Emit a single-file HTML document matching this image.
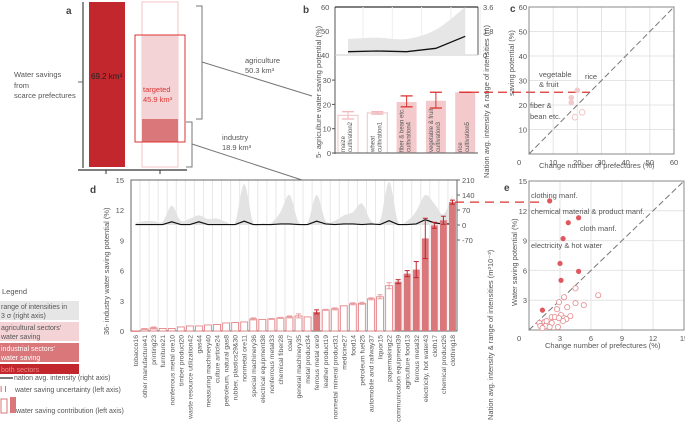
<!DOCTYPE html>
<html><head><meta charset="utf-8"><style>
body{margin:0;background:#fff;width:685px;height:428px;overflow:hidden;font-family:"Liberation Sans",sans-serif}
svg text{font-family:"Liberation Sans",sans-serif}
</style></head><body>
<svg id="s" width="685" height="428" fill="#555" xmlns="http://www.w3.org/2000/svg">
<!-- Panel a -->
<g>
<text x="66" y="14" font-size="10" font-weight="bold" fill="#444">a</text>
<line x1="83" y1="2" x2="83" y2="168" stroke="#666" stroke-width="1.5"/>
<line x1="78" y1="82" x2="83" y2="82" stroke="#666"/>
<line x1="78" y1="170" x2="187" y2="170" stroke="#333" stroke-width="1.2"/>
<line x1="106" y1="170" x2="106" y2="174" stroke="#333"/><line x1="160" y1="170" x2="160" y2="174" stroke="#333"/>
<rect x="89" y="2" width="36" height="165" fill="#c1272d"/>
<text x="91" y="79" font-size="8" fill="#222">69.2 km³</text>
<rect x="142" y="2" width="36" height="165" fill="none" stroke="#f3c5c8"/>
<rect x="142" y="35" width="36" height="84" fill="#f3d3d5"/>
<rect x="142" y="119" width="36" height="23" fill="#d9777b"/>
<rect x="135" y="35" width="50" height="107" fill="none" stroke="#d33"/>
<text x="143" y="92" font-size="7.5" fill="#d33">targeted</text>
<text x="143" y="102" font-size="7.5" fill="#d33">45.9 km³</text>
<text x="14" y="77" font-size="7.5">Water savings</text>
<text x="14" y="88" font-size="7.5">from</text>
<text x="14" y="98" font-size="7.5">scarce prefectures</text>
<path d="M196 6 H202 V119 H196" fill="none" stroke="#777"/>
<path d="M186 122 H192 V167 H186" fill="none" stroke="#777"/>
<line x1="202" y1="62" x2="312" y2="96" stroke="#777"/>
<line x1="192" y1="144" x2="302" y2="180" stroke="#777"/>
<text x="245" y="63" font-size="7.5">agriculture</text><text x="245" y="73" font-size="7.5">50.3 km³</text>
<text x="222" y="140" font-size="7.5">industry</text><text x="222" y="150" font-size="7.5">18.9 km³</text>
</g>
<g id="pb"><text x="303" y="13" font-size="10" font-weight="bold" fill="#444">b</text></g>
<g id="pc"></g>
<g id="pd"><text x="90" y="193" font-size="10" font-weight="bold" fill="#444">d</text></g>
<g id="pe"></g>
<!-- Legend -->
<g>
<text x="2" y="294" font-size="7.5">Legend</text>
<rect x="0" y="301" width="79" height="19" fill="#e6e6e6"/>
<text x="1" y="309" font-size="7">range of intensities in</text><text x="1" y="318" font-size="7">3 σ (right axis)</text>
<rect x="0" y="322" width="79" height="19" fill="#f3d3d5"/>
<text x="1" y="330" font-size="7">agricultural sectors'</text><text x="1" y="339" font-size="7">water saving</text>
<rect x="0" y="343" width="79" height="19" fill="#d9777b"/>
<text x="1" y="351" font-size="7" fill="#fff">industrial sectors'</text><text x="1" y="360" font-size="7" fill="#fff">water saving</text>
<rect x="0" y="364" width="79" height="10" fill="#c1272d"/><text x="1" y="372" font-size="7" fill="#e88">both sectors</text>
<line x1="0" y1="378" x2="13" y2="378" stroke="#222" stroke-width="1.2"/>
<text x="14" y="380" font-size="7">nation avg. intensity (right axis)</text>
<text x="0" y="392" font-size="8" fill="#d33">I I</text>
<text x="15" y="392" font-size="7">water saving uncertainty (left axis)</text>
<rect x="1" y="399" width="6" height="14" fill="none" stroke="#d9777b"/><rect x="10" y="397" width="6" height="16" fill="#d9777b"/>
<text x="16" y="413" font-size="7">water saving contribution (left axis)</text>
</g>
</svg>
<script>
const NS='http://www.w3.org/2000/svg';
function el(p,t,a){const e=document.createElementNS(NS,t);for(const k in a)e.setAttribute(k,a[k]);p.appendChild(e);return e;}
function tx(p,x,y,s,sz,extra){const e=el(p,'text',Object.assign({x:x,y:y,'font-size':sz||7},extra||{}));e.textContent=s;return e;}
function smooth(pts){let d='M'+pts[0][0]+' '+pts[0][1];for(let i=0;i<pts.length-1;i++){const p0=pts[Math.max(i-1,0)],p1=pts[i],p2=pts[i+1],p3=pts[Math.min(i+2,pts.length-1)];
 d+=' C'+(p1[0]+(p2[0]-p0[0])/6)+' '+(p1[1]+(p2[1]-p0[1])/6)+' '+(p2[0]-(p3[0]-p1[0])/6)+' '+(p2[1]-(p3[1]-p1[1])/6)+' '+p2[0]+' '+p2[1];}return d;}

// ---- Panel b data
const bCats=['maize cultivation2','wheat cultivation1','fiber & bean etc. cultivation4','vegetable & fruit cultivation3','rice cultivation5'];
const bVals=[15.5,16.5,21,21.5,25];
const bErrLo=[14,16,19,18.5,25];
const bErrHi=[17,17,23.5,25,25];
const bFilled=[false,false,true,true,true];
const bInt=[0.25,0.3,0.25,0.5,1.4];
const bRangeHi=[1.2,1.3,1.2,1.9,3.6];
const bTicks=[0,10,20,30];
const pb=document.getElementById('pb');
const bx0=335,bx1=478,by0=153,bsc=2.43;
const bX=i=>348+i*29.3, bY=v=>by0-v*bsc;
const tY=v=>55-(v-40)*2.4, tR=v=>55-v*(48/3.6);
el(pb,'line',{x1:bx0,y1:7,x2:bx0,y2:154,stroke:'#555'});
el(pb,'line',{x1:bx1,y1:7,x2:bx1,y2:55,stroke:'#555'});
el(pb,'line',{x1:bx0,y1:7,x2:bx1,y2:7,stroke:'#333','stroke-width':1.2});
el(pb,'line',{x1:bx0,y1:55,x2:bx1,y2:55,stroke:'#ccc'});
for(let i=0;i<5;i++){el(pb,'line',{x1:bX(i)+15,y1:7,x2:bX(i)+15,y2:55,stroke:'#eee'});}
[40,50,60].forEach(v=>{tx(pb,321,tY(v)+3,String(v),7.5);});
[[0,'0'],[1.8,'1.8'],[3.6,'3.6']].forEach(([v,s])=>tx(pb,483,tR(v)+3,s,7.5));
bTicks.forEach(v=>{tx(pb,331,bY(v)+3,String(v),7.5,{'text-anchor':'end'});el(pb,'line',{x1:bx0-3,y1:bY(v),x2:bx0,y2:bY(v),stroke:'#555'});});
const bPts=bRangeHi.map((v,i)=>[bX(i),tR(v)]);
const ba=el(pb,'path',{d:smooth(bPts)+' L'+bX(4)+' 55 L'+bX(0)+' 55Z',fill:'#e6e6e6'});


const bl=el(pb,'polyline',{points:bInt.map((v,i)=>bX(i)+','+tR(v)).join(' '),fill:'none',stroke:'#111','stroke-width':1.3});


bVals.forEach((v,i)=>{
 const r=el(pb,'rect',{x:bX(i)-10,y:bY(v),width:20,height:v*bsc,fill:bFilled[i]?'#f3c9cb':'#fff',stroke:bFilled[i]?'none':'#f1c3c5'});
 
 
 const c=bFilled[i]?'#d33':'#f1b8bb';
 el(pb,'line',{x1:bX(i),y1:bY(bErrLo[i]),x2:bX(i),y2:bY(bErrHi[i]),stroke:c});
 el(pb,'line',{x1:bX(i)-6,y1:bY(bErrLo[i]),x2:bX(i)+6,y2:bY(bErrLo[i]),stroke:c,'stroke-width':1.3});
 el(pb,'line',{x1:bX(i)-6,y1:bY(bErrHi[i]),x2:bX(i)+6,y2:bY(bErrHi[i]),stroke:c,'stroke-width':1.3});
 const parts=bCats[i].split(/ (?=cultivation)/);
 const t=tx(pb,0,0,'',6);t.setAttribute('transform','translate('+(bX(i)-3)+',152) rotate(-90)');
 t.innerHTML='<tspan x="0" dy="0">'+parts[0]+'</tspan><tspan x="0" dy="7">'+parts[1]+'</tspan>';
});
el(pb,'line',{x1:bx0,y1:by0,x2:bx1,y2:by0,stroke:'#555'});
let tl=tx(pb,0,0,'5- agriculture water saving potential (%)',7.5);tl.setAttribute('transform','translate(321,158) rotate(-90)');
tl=tx(pb,0,0,'Nation avg. intensity & range of intensities (m)',7.5);tl.setAttribute('transform','translate(489,178) rotate(-90)');
el(pb,'line',{x1:470,y1:bY(25),x2:590,y2:bY(25),stroke:'#d33','stroke-width':1.3,'stroke-dasharray':'9 5'});

// ---- Panel c
const cX=[20,17.5,17.5,19,22];
const cY=[26,23,21,15,17];
const cFill=[true,true,true,false,false];
const pc=document.getElementById('pc');
function scatter(g,L,R,T,B,max,ticks,xs,ys,fill,colF,colO,r){
 const X=v=>L+v/max*(R-L),Y=v=>B-v/max*(B-T);
 ticks.forEach(v=>{el(g,'line',{x1:X(v),y1:T,x2:X(v),y2:B,stroke:'#e4e4e4'});el(g,'line',{x1:L,y1:Y(v),x2:R,y2:Y(v),stroke:'#e4e4e4'});
  tx(g,X(v),B+11,String(v),7.5,{'text-anchor':'middle'});if(v>0)tx(g,L-2,Y(v)+3,String(v),7.5,{'text-anchor':'end'});});
 tx(g,L-12,B+11,'0',7.5);
 el(g,'rect',{x:L,y:T,width:R-L,height:B-T,fill:'none',stroke:'#888'});
 el(g,'line',{x1:L,y1:B,x2:R,y2:T,stroke:'#777','stroke-dasharray':'6 3'});
 xs.forEach((v,i)=>{const c=el(g,'circle',{cx:X(v),cy:Y(ys[i]),r:r,fill:fill[i]?colF:'#fff',stroke:fill[i]?'none':colO,'stroke-width':0.8});
  
  });
 return {X,Y};
}
tx(pc,510,12,'c',10,{'font-weight':'bold',fill:'#444'});
scatter(pc,529,674,7,154,60,[10,20,30,40,50,60],cX,cY,cFill,'#f3c9cb','#f1b8bb',2.8);
tx(pc,539,168,'Change number of prefectures (%)',7.5);
tl=tx(pc,0,0,'saving potential (%)',7.5);tl.setAttribute('transform','translate(514,96) rotate(-90)');
tx(pc,539,77,'vegetable',7.5);tx(pc,539,87,'& fruit',7.5);tx(pc,585,79,'rice',7.5);
tx(pc,530,108,'fiber &',7.5);tx(pc,530,119,'bean etc.',7.5);

// ---- Panel d
const dCats=['tobacco16','other manufacture41','printing23','furniture21','nonferrous metal ore10','timber product20','waste resource utilization42','gas44','measuring machinery40','culture article24','petroleum, natural gas8','rubber, plastics29&30','nonmetal ore11','special machinery36','electrical equipment38','nonferrous metal33','chemical fiber28','coal7','general machinery35','metal product34','ferrous metal ore9','leather product19','nonmetal mineral product31','medicine27','food14','petroleum fuel25','automobile and railway37','liquor15','papermaking22','communication equipment39','agriculture food13','ferrous metal32','electricity, hot water43','cloth17','chemical product26','clothing18'];
const dVals=[0,0.2,0.3,0.25,0.25,0.4,0.5,0.5,0.6,0.65,0.8,0.85,0.9,1.2,1.15,1.2,1.3,1.4,1.5,1.4,1.9,2.1,2.2,2.5,2.7,2.75,3.2,3.4,4.5,4.9,5.7,6.1,9.2,10.5,11,12.8];
const dErr=[0,0.05,0.1,0,0,0,0,0,0,0,0,0,0,0.1,0,0.05,0.05,0.1,0.2,0,0.2,0.05,0.1,0,0.1,0.1,0.1,0.2,0.3,0.2,0.3,0.8,2,0.3,0.4,0.2];
const dFilled=[0,0,0,0,0,0,0,0,0,0,0,0,0,0,0,0,0,0,0,0,1,0,0,0,0,0,0,0,0,1,1,1,1,1,1,1];
const dInt=[2,2,2,2,15,2,2,15,2,2,2,2,18,2,2,2,5,5,2,2,18,5,2,5,5,2,5,2,20,2,2,5,25,10,5,5];
const dRange=[10,18,18,15,90,20,30,45,28,30,15,10,190,10,8,10,60,140,15,10,140,20,20,45,60,100,20,20,200,15,20,65,140,100,50,140];
const dLeftTicks=[0,3,6,9,12,15];
const dRightTicks=[-70,0,70,140,210];
const pd=document.getElementById('pd');
const dL=131,dR=457,dT=180,dB=331,dn=dCats.length,bw=(dR-dL)/dn;
const dX=i=>dL+(i+0.5)*bw, dY=v=>dB-v/15*(dB-dT), dRY=v=>225-v*(45/210);
for(let i=1;i<dn;i++)el(pd,'line',{x1:dL+i*bw,y1:dT,x2:dL+i*bw,y2:dB,stroke:'#e8e8e8'});
const dPts=dRange.map((v,i)=>[dX(i),dRY(v)]);
const da=el(pd,'path',{d:'M'+dX(0)+' 225 L'+smooth(dPts).slice(1)+' L'+dX(dn-1)+' 225Z',fill:'#e3e3e3'});


const dl=el(pd,'polyline',{points:dInt.map((v,i)=>dX(i)+','+dRY(v)).join(' '),fill:'none',stroke:'#111','stroke-width':1.2});


el(pd,'rect',{x:dL,y:dT,width:dR-dL,height:dB-dT,fill:'none',stroke:'#666'});
dLeftTicks.forEach(v=>tx(pd,dL-7,dY(v)+3,String(v),7.5,{'text-anchor':'end'}));
dRightTicks.forEach(v=>{tx(pd,dR+5,dRY(v)+3,String(v),7.5);el(pd,'line',{x1:dR,y1:dRY(v),x2:dR+3,y2:dRY(v),stroke:'#666'});});
dVals.forEach((v,i)=>{
 const f=dFilled[i];
 const r=el(pd,'rect',{x:dX(i)-bw*0.38,y:dY(v),width:bw*0.76,height:Math.max(v/15*(dB-dT),0.5),fill:f?'#d9777b':'#fff',stroke:f?'none':'#e6868a','stroke-width':0.9});
 
 
 if(dErr[i]>0){const c=f?'#c1272d':'#ea9ea1';
  el(pd,'line',{x1:dX(i),y1:dY(v-dErr[i]),x2:dX(i),y2:dY(v+dErr[i]),stroke:c});
  el(pd,'line',{x1:dX(i)-2.5,y1:dY(v+dErr[i]),x2:dX(i)+2.5,y2:dY(v+dErr[i]),stroke:c});
  el(pd,'line',{x1:dX(i)-2.5,y1:dY(v-dErr[i]),x2:dX(i)+2.5,y2:dY(v-dErr[i]),stroke:c});}
 const t=tx(pd,0,0,dCats[i],6.8);t.setAttribute('text-anchor','end');t.setAttribute('transform','translate('+(dX(i)+2.5)+','+(dB+4)+') rotate(-90)');
});
tl=tx(pd,0,0,'36- industry water saving potential (%)',7.5);tl.setAttribute('transform','translate(109,335) rotate(-90)');
tl=tx(pd,0,0,'Nation avg. intensity & range of intensities (m³10⁻³)',7.5);tl.setAttribute('transform','translate(493,420) rotate(-90)');
el(pd,'line',{x1:455,y1:dY(12.8),x2:545,y2:dY(12.8),stroke:'#d33','stroke-width':1.3,'stroke-dasharray':'9 6'});

// ---- Panel e
const eX=[2,4.8,3.8,3.3,3,4.8,3.1,1.3,4.5,6.7,3.4,2.9,4.5,5.3,3.7,2.7,3.1,4,2.2,2.5,2.9,3.4,3.6,3.3,1,1.5,2.2,1.7,1.6,1.1,2,2.8,1.3,1.7];
const eY=[13,11.3,10.8,9.2,6.7,5.9,5,2,4.2,3.5,3.3,2.8,2.7,2.5,2.3,2.1,1.5,1.4,1.3,1.3,1.2,1.2,1.1,0.9,0.7,0.8,0.7,0.6,0.4,0.4,0.3,0.3,0.2,0.9];
const eFill=eX.map((v,i)=>i<8);
const pe=document.getElementById('pe');
tx(pe,504,191,'e',10,{'font-weight':'bold',fill:'#444'});
scatter(pe,529,684,181,330,15,[3,6,9,12,15],eX,eY,eFill,'#e0575d','#e58a8e',2.6);
tx(pe,545,348,'Change number of prefectures (%)',7.5);
tl=tx(pe,0,0,'Water saving potential (%)',7.5);tl.setAttribute('transform','translate(517,306) rotate(-90)');
tx(pe,531,198,'clothing manf.',7.5);tx(pe,531,214,'chemical material & product manf.',7.5);
tx(pe,580,231,'cloth manf.',7.5);tx(pe,531,248,'electricity & hot water',7.5);
</script>
</body></html>
